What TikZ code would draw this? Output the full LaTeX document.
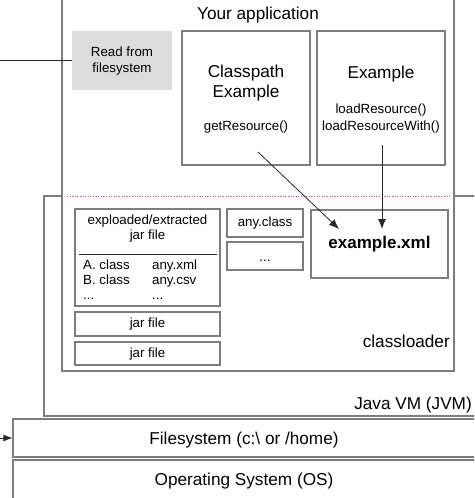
\documentclass[tikz,border=0pt]{standalone}
\usepackage{fontspec}
\setmainfont{Liberation Sans}
\usetikzlibrary{arrows.meta}
\definecolor{boxgray}{RGB}{125,125,125}
\definecolor{fillgray}{RGB}{220,220,220}
\definecolor{linedark}{RGB}{40,40,40}
\tikzset{
  box/.style={draw=boxgray, line width=1.1pt, rectangle, inner sep=0pt},
  big/.style={font=\fontsize{17.2}{20}\selectfont, inner sep=0pt, align=center},
  small/.style={font=\fontsize{13.3}{16}\selectfont, inner sep=0pt, align=center},
  conn/.style={draw=linedark, line width=0.8pt},
  tip/.style={-{Latex[length=10pt,width=8pt]}}
}
\begin{document}
\begin{tikzpicture}[x=1pt,y=-1pt]
\useasboundingbox (0,0) rectangle (474,498);
\clip (0,0) rectangle (474,498);
% outer layers
\node[box] (os) at (251.5,485) [minimum width=477pt, minimum height=50pt] {};
\node[box] (fs) at (251.5,438) [minimum width=477pt, minimum height=38pt] {};
\node[box] (jvm) at (267,306) [minimum width=446pt, minimum height=220pt] {};
\node[box, fill=white] (app) at (258,180.5) [minimum width=392pt, minimum height=381pt] {};
\draw[red!80, dotted, line width=0.6pt] (67,196) -- (451,196);
% texts of layers
\node[big] (ostxt) at (244,481) {Operating System (OS)};
\node[big] (fstxt) at (244,440) {Filesystem (c:\textbackslash{} or /home)};
\node[big, anchor=east] (jvmtxt) at (472,405) {Java VM (JVM)};
\node[big, anchor=east] (cltxt) at (450,341) {classloader};
\node[big] (apptxt) at (258,15) {Your application};
% application boxes
\node[rectangle, fill=fillgray, inner sep=0pt, minimum width=100pt, minimum height=59pt] (read) at (122,60.5) {};
\node[small] (readtxt) at (122,61) {Read from\\filesystem};
\node[box] (cp) at (246,98) [minimum width=128pt, minimum height=134pt] {};
\node[big] (cptxt) at (246,83.5) {Classpath\\Example};
\node[small] (cpm) at (246,127.5) {getResource()};
\node[box] (ex) at (381,98) [minimum width=128pt, minimum height=134pt] {};
\node[big] (extxt) at (381,74) {Example};
\node[small, font=\fontsize{13.3}{17}\selectfont] (exm) at (381,119) {loadResource()\\loadResourceWith()};
% classloader boxes
\node[box] (xml) at (379.5,244) [minimum width=137pt, minimum height=68pt] {};
\node[big, font=\fontsize{17}{20}\selectfont\bfseries] (xmltxt) at (379.5,244) {example.xml};
\node[box] (expl) at (147.5,257.5) [minimum width=145pt, minimum height=97pt] {};
\node[small, font=\fontsize{13.3}{15}\selectfont] (expltxt) at (147.5,229) {exploaded/extracted\\jar file};
\coordinate (sepl) at (79,254);
\coordinate (sepr) at (217,254);
\draw[linedark, line width=0.7pt] (sepl) -- (sepr);
\node[small, align=left, anchor=north west, font=\fontsize{13.3}{15}\selectfont] (colA) at (83,259.5) {A. class\\B. class\\...};
\node[small, align=left, anchor=north west, font=\fontsize{13.3}{15}\selectfont] (colB) at (152,259.5) {any.xml\\any.csv\\...};
\node[box] (jar1) at (147.5,324) [minimum width=145pt, minimum height=24pt] {};
\node[small] (jar1txt) at (147.5,324.5) {jar file};
\node[box] (jar2) at (147.5,353.5) [minimum width=145pt, minimum height=23pt] {};
\node[small] (jar2txt) at (147.5,354) {jar file};
\node[box] (anyc) at (265,223) [minimum width=76pt, minimum height=28pt] {};
\node[small] (anyctxt) at (265,223.5) {any.class};
\node[box] (dots) at (265,256) [minimum width=76pt, minimum height=28pt] {};
\node[small, anchor=base] (dotstxt) at (265,261) {...};
% connectors
\coordinate (a1s) at (258,152);
\coordinate (a1e) at (339,229);
\coordinate (a2s) at (382,145);
\coordinate (a2e) at (382,229);
\draw[conn, tip] (a1s) -- (a1e);
\draw[conn, tip] (a2s) -- (a2e);
\coordinate (leftout) at (0,60.5);
\draw[conn] (read.west) -- (leftout);
\coordinate (leftin) at (0,438);
\draw[conn, -{Latex[length=9pt,width=7pt]}] (leftin) -- (fs.west);
\end{tikzpicture}
\end{document}
